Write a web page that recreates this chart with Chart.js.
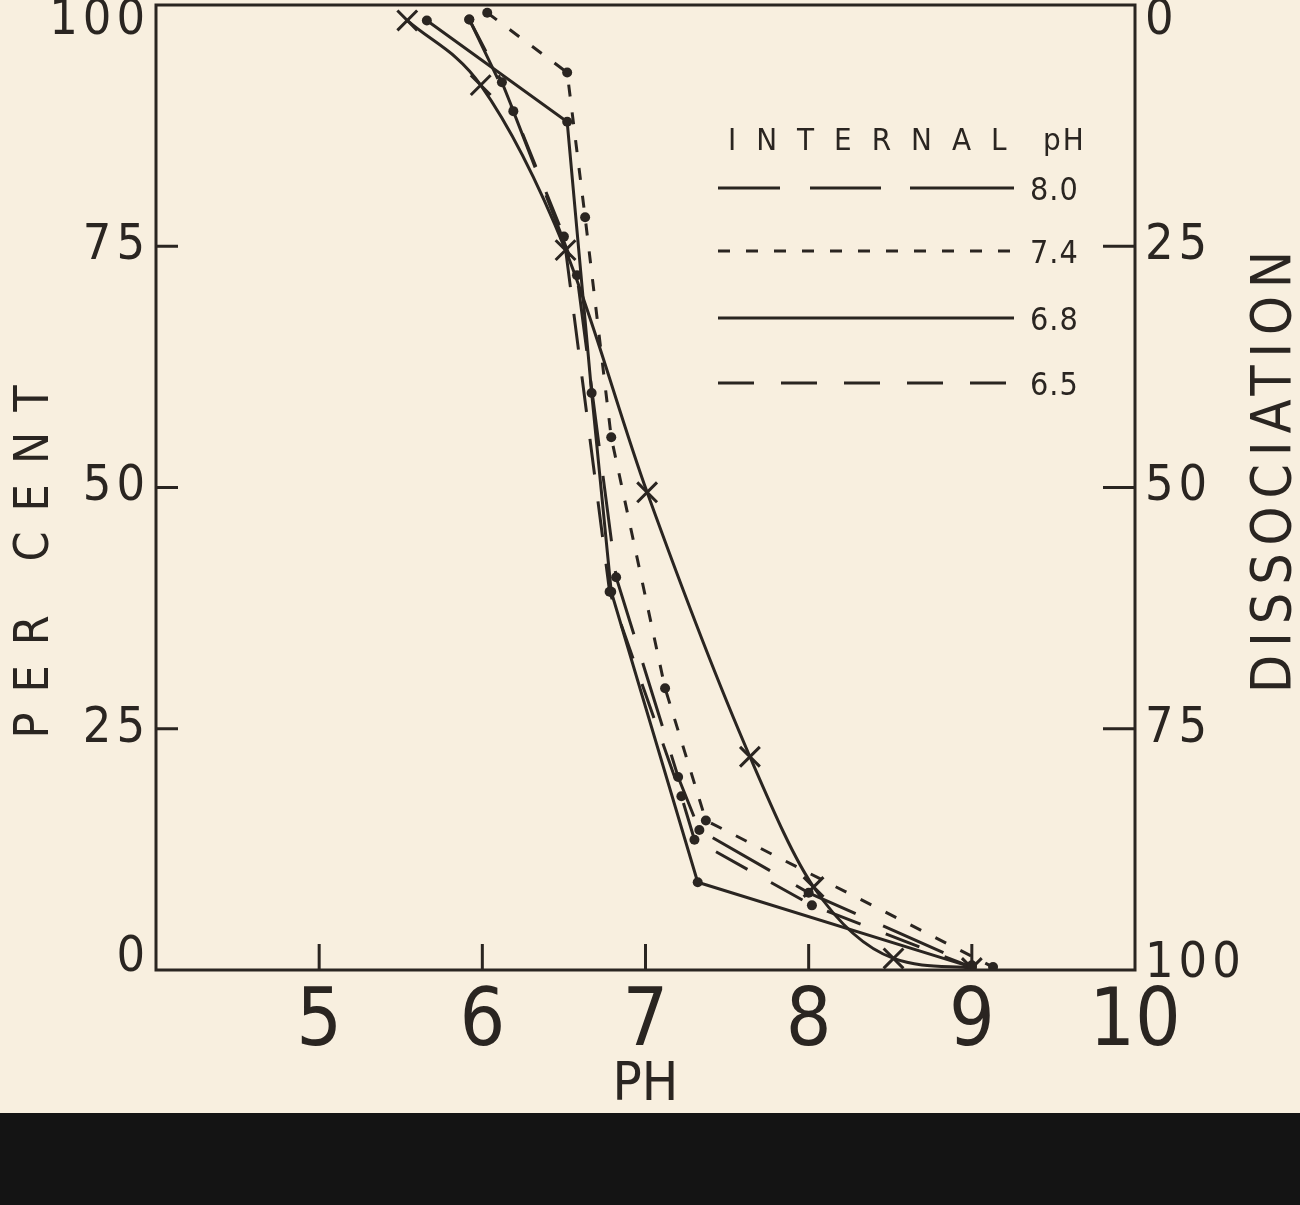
<!DOCTYPE html>
<html>
<head>
<meta charset="utf-8">
<script src="https://cdn.jsdelivr.net/npm/chart.js@4.4.1/dist/chart.umd.min.js"></script>
<style>
  html, body { margin: 0; padding: 0; background: #f8efdf; }
  #wrap { width: 1300px; height: 1113px; }
  #band { width: 1300px; height: 92px; background: #141414; }
</style>
</head>
<body>
<div id="wrap"><canvas id="chart" width="1300" height="1113"></canvas></div>
<div id="band"></div>
<script>
// axis ticks
const phTicks      = [5, 6, 7, 8, 9, 10];
const perCentTicks = [0, 25, 50, 75, 100];
const dissTicks    = [0, 25, 50, 75, 100];

// internal pH 8.0 (long dashes)
const ph80  = [5.92, 6.19, 6.58, 6.82, 7.20, 7.33, 8.00, 9.00];
const pct80 = [98.5, 89.0, 72.0, 40.7, 20.0, 14.5, 8.0, 0.5];
// internal pH 7.4 (short dashes)
const ph74  = [6.03, 6.52, 6.63, 6.79, 7.12, 7.37, 9.13];
const pct74 = [99.2, 93.0, 78.0, 55.2, 29.2, 15.5, 0.3];
// internal pH 6.8 (solid)
const ph68  = [5.66, 6.52, 6.67, 6.79, 7.32, 9.00];
const pct68 = [98.4, 87.9, 59.8, 39.2, 9.1, 0.3];
// internal pH 6.5 (medium dashes)
const ph65  = [5.92, 6.12, 6.50, 6.78, 7.22, 7.30, 8.02, 9.00];
const pct65 = [98.5, 92.0, 76.0, 39.2, 18.0, 13.5, 6.7, 0.3];
// curve marked with crosses
const phX   = [5.54, 5.99, 6.51, 7.01, 7.64, 8.03, 8.52, 9.00];
const pctX  = [98.4, 91.7, 74.6, 49.5, 22.1, 8.6, 1.2, 0.2];

const INK = "#2a2521";
const PAPER = "#f8efdf";
const LETTER = "'Liberation Sans Narrow', 'DejaVu Sans Condensed', 'Liberation Sans', sans-serif";

function pts(xs, ys) {
    return xs.map((x, i) => ({ x: x, y: ys[i] }));
}

function series(label, xs, ys, dash, legendDash) {
    return {
        label: label,
        data: pts(xs, ys),
        borderColor: INK,
        backgroundColor: INK,
        borderWidth: 3,
        borderDash: dash,
        legendDash: legendDash || dash,
        tension: 0,
        pointRadius: 5,
        pointBorderWidth: 0,
        pointBackgroundColor: INK,
        inLegend: true
    };
}

const paperPlugin = {
    id: "paper",
    beforeDraw(chart) {
        const ctx = chart.ctx;
        ctx.save();
        ctx.fillStyle = PAPER;
        ctx.fillRect(0, 0, chart.width, chart.height);
        ctx.restore();
    },
    afterDraw(chart) {
        const { ctx, chartArea: a, scales } = chart;
        ctx.save();
        ctx.strokeStyle = INK;
        ctx.fillStyle = INK;
        ctx.lineWidth = 3;
        ctx.setLineDash([]);

        // frame
        ctx.strokeRect(a.left, a.top, a.right - a.left, a.bottom - a.top);

        // tick marks, drawn inward
        ctx.beginPath();
        phTicks.forEach(v => {
            if (v <= 4 || v >= 10) return;
            const px = scales.x.getPixelForValue(v);
            ctx.moveTo(px, a.bottom);
            ctx.lineTo(px, a.bottom - 26);
        });
        perCentTicks.forEach(v => {
            if (v === 0 || v === 100) return;
            const py = scales.y.getPixelForValue(v);
            ctx.moveTo(a.left, py);
            ctx.lineTo(a.left + 22, py);
        });
        dissTicks.forEach(v => {
            if (v === 0 || v === 100) return;
            const py = scales.y2.getPixelForValue(v);
            ctx.moveTo(a.right, py);
            ctx.lineTo(a.right - 32, py);
        });
        ctx.stroke();

        // y tick labels (kept inside the frame height at the ends)
        ctx.font = "300 50px " + LETTER;
        ctx.letterSpacing = "5px";
        ctx.textBaseline = "middle";
        ctx.textAlign = "right";
        perCentTicks.forEach(v => {
            let py = scales.y.getPixelForValue(v);
            py = Math.min(Math.max(py, a.top + 16), a.bottom - 12);
            ctx.fillText(String(v), a.left - 6, py);
        });
        ctx.textAlign = "left";
        dissTicks.forEach(v => {
            let py = scales.y2.getPixelForValue(v);
            py = Math.min(Math.max(py, a.top + 16), a.bottom - 6);
            ctx.fillText(String(v), a.right + 10, py);
        });

        // side titles, reading upward
        ctx.textAlign = "center";
        ctx.save();
        ctx.font = "300 48px " + LETTER;
        ctx.letterSpacing = "20px";
        ctx.translate(36, 562);
        ctx.rotate(-Math.PI / 2);
        ctx.fillText("PER CENT", 10, 0);
        ctx.restore();
        ctx.save();
        ctx.font = "300 55px " + LETTER;
        ctx.letterSpacing = "8px";
        ctx.translate(1276, 472);
        ctx.rotate(-Math.PI / 2);
        ctx.fillText("DISSOCIATION", 4, 0);
        ctx.restore();

        // legend
        ctx.textAlign = "left";
        ctx.textBaseline = "middle";
        ctx.font = "300 31px " + LETTER;
        ctx.letterSpacing = "20px";
        ctx.fillText("INTERNAL", 728, 142);
        ctx.letterSpacing = "2px";
        ctx.fillText("pH", 1043, 142);
        const rows = [188, 251, 318, 383];
        let r = 0;
        chart.data.datasets.forEach(ds => {
            if (!ds.inLegend) return;
            const y = rows[r++];
            ctx.setLineDash(ds.legendDash);
            ctx.lineWidth = 3;
            ctx.beginPath();
            ctx.moveTo(718, y);
            ctx.lineTo(1014, y);
            ctx.stroke();
            ctx.setLineDash([]);
            ctx.font = "300 32px " + LETTER;
            ctx.letterSpacing = "1px";
            ctx.fillText(ds.label, 1030, y + 4);
        });
        ctx.restore();
    }
};

new Chart(document.getElementById("chart"), {
    type: "line",
    data: {
        datasets: [
            series("8.0", ph80, pct80, [66, 30], [62, 30, 71, 29, 200]),
            series("7.4", ph74, pct74, [12, 16]),
            series("6.8", ph68, pct68, []),
            series("6.5", ph65, pct65, [36, 27]),
            {
                label: "x",
                data: pts(phX, pctX),
                borderColor: INK,
                borderWidth: 3,
                cubicInterpolationMode: "monotone",
                pointStyle: "crossRot",
                pointRadius: 14,
                pointBorderWidth: 3,
                pointBorderColor: INK,
                inLegend: false
            }
        ]
    },
    options: {
        responsive: false,
        animation: false,
        layout: { autoPadding: false, padding: { top: 5, left: 0, right: 0, bottom: 0 } },
        plugins: {
            legend: { display: false },
            tooltip: { enabled: false }
        },
        scales: {
            x: {
                type: "linear",
                min: 4,
                max: 10,
                afterBuildTicks: s => { s.ticks = phTicks.map(v => ({ value: v })); },
                afterFit: s => { s.height = 143; },
                grid: { display: false, drawTicks: false },
                border: { display: false },
                ticks: {
                    color: INK,
                    font: { family: LETTER, size: 80, weight: "300" },
                    padding: 6,
                    maxRotation: 0,
                    autoSkip: false
                },
                title: {
                    display: true,
                    text: "PH",
                    color: INK,
                    font: { family: LETTER, size: 54, lineHeight: 1, weight: "300" },
                    padding: 0
                }
            },
            y: {
                position: "left",
                min: 0,
                max: 100,
                afterFit: s => { s.width = 156; },
                grid: { display: false, drawTicks: false },
                border: { display: false },
                ticks: { display: false }
            },
            y2: {
                position: "right",
                reverse: true,
                min: 0,
                max: 100,
                afterFit: s => { s.width = 165; },
                grid: { display: false, drawTicks: false },
                border: { display: false },
                ticks: { display: false }
            }
        }
    },
    plugins: [paperPlugin]
});
</script>
</body>
</html>
